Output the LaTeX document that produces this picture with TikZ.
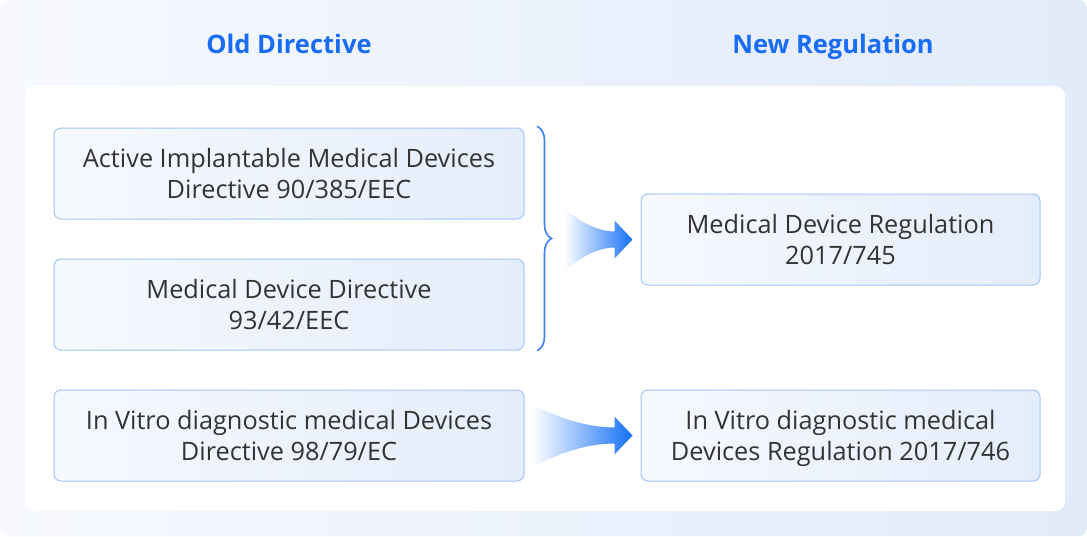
\documentclass[tikz,border=0pt]{standalone}
\usepackage{fontspec}
\setmainfont{Open Sans}
\usetikzlibrary{decorations.pathreplacing,positioning}

\definecolor{hblue}{HTML}{1A6CF2}
\definecolor{txt}{HTML}{333333}
\definecolor{boxline}{HTML}{A4C6F6}
\definecolor{boxA}{HTML}{F6F9FE}
\definecolor{boxB}{HTML}{E4EDFB}
\definecolor{bgA}{HTML}{F7F9FE}
\definecolor{bgB}{HTML}{E1EBFA}
\definecolor{braceblue}{HTML}{3C82F4}
\definecolor{arrowblue}{HTML}{1570F5}

% curved arrow that fades in from the left: #1 tip, #2 length
\newcommand{\fadearrow}[2]{%
  \begin{scope}[shift={(#1)}]
    \pgfmathsetmacro{\ca}{-#2+0.35*(#2-18)}
    \pgfmathsetmacro{\cb}{-18-0.3*(#2-18)}
    \shade[left color=white, right color=arrowblue]
      (-#2,-31) .. controls (\ca,-16) and (\cb,-8) .. (-18,-8)
      -- (-18,-19) -- (0,0) -- (-18,19) -- (-18,8)
      .. controls (\cb,8) and (\ca,16) .. (-#2,32) -- cycle;
  \end{scope}}

\begin{document}
\begin{tikzpicture}[x=1pt,y=-1pt,
    regbox/.style={draw=boxline, line width=1pt, rounded corners=7pt,
      left color=boxA, right color=boxB, minimum width=470pt, minimum height=91pt,
      align=center, text=txt, inner sep=0pt, text depth=0pt,
      font=\fontsize{25.3}{31}\selectfont},
    colhead/.style={text=hblue, anchor=base, font=\fontsize{25.5}{28}\selectfont\bfseries}]

  \useasboundingbox (0,0) rectangle (1087,536);
  \shade[rounded corners=8pt, left color=bgA, right color=bgB] (0,0) rectangle (1087,536);
  \fill[white, rounded corners=10pt] (25,86) rectangle (1065,511);

  \node[colhead] (old) at (289,53) {Old Directive};
  \node[colhead] (new) at (833,53) {New Regulation};

  \node[regbox] (aimd) at (289,173.5) {Active Implantable Medical Devices\\Directive 90/385/EEC};
  \node[regbox] (mdd) at (289,304.5) {Medical Device Directive\\93/42/EEC};
  \node[regbox] (ivdd) at (289,435.5) {In Vitro diagnostic medical Devices\\Directive 98/79/EC};

  \node[regbox, minimum width=399pt] (mdr) at (840.5,239.5) {Medical Device Regulation\\2017/745};
  \node[regbox, minimum width=399pt] (ivdr) at (840.5,435.5) {In Vitro diagnostic medical\\Devices Regulation 2017/746};

  % brace round the first two
  \draw[braceblue, line width=1.6pt, line cap=round, decorate, decoration={brace, amplitude=14pt}]
    ([xshift=13pt,yshift=1pt]aimd.north east) -- ([xshift=13pt]mdd.south east);

  \coordinate (tipA) at ([xshift=-8pt]mdr.west);
  \coordinate (tipB) at ([xshift=-8pt]ivdr.west);
  \fadearrow{tipA}{68}
  \fadearrow{tipB}{100}
\end{tikzpicture}
\end{document}
